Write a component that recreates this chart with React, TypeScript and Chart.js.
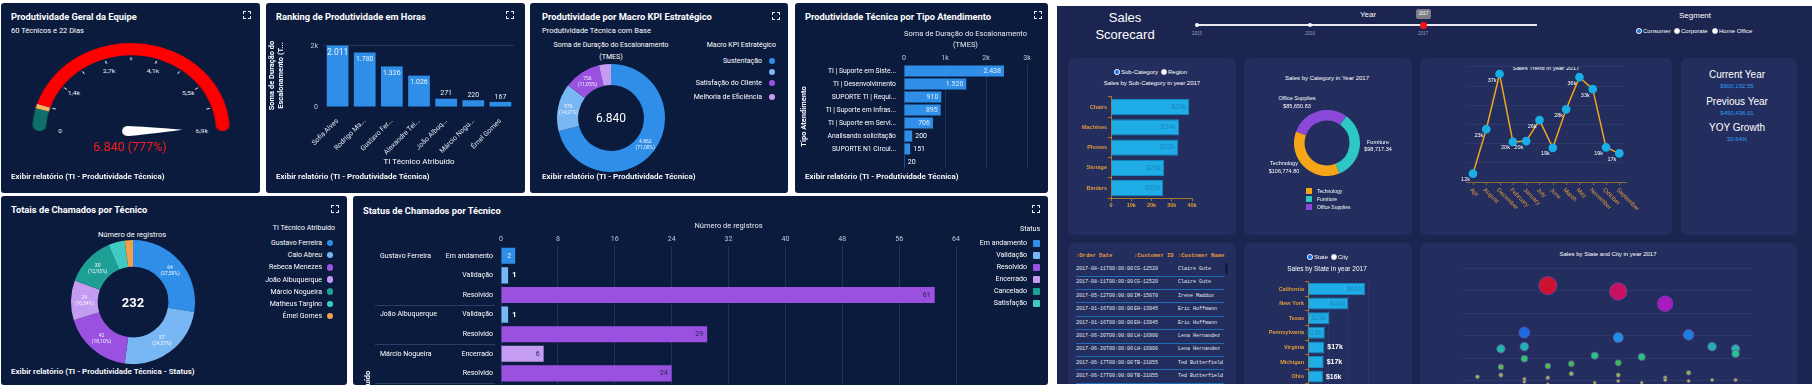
import React, { useEffect, useRef } from 'react';
import { Chart, registerables } from 'chart.js';

Chart.register(...registerables);

const LF = 'Roboto, "Noto Sans", sans-serif';
const RF = '"Liberation Sans", Arial, sans-serif';
const MF = '"Liberation Mono", "DejaVu Sans Mono", monospace';

// ================= LEFT DASHBOARD DATA =================
const gaugeBandLabels = ['Meta', 'Tolerância', 'Acima da meta'];
const gaugeBandValues = [575, 115, 6210];
const gaugeTickLabels = ['0', '1,4k', '2,7k', '4,1k', '5,5k', '6,9k'];
const gaugeValue = 6840;
const gaugeMax = 6900;
const gaugeValueText = '6.840 (777%)';

const rankNames = ['Sofia Alves', 'Rodrigo Ma...', 'Gustavo Fer...', 'Alexandre Tei...', 'João Albuq...', 'Márcio Nogu...', 'Érnel Gomes'];
const rankHours = [2011, 1780, 1326, 1026, 271, 220, 167];

const kpiNames = ['Sustentação', '', 'Satisfação do Cliente', 'Melhoria de Eficiência'];
const kpiValues = [4862, 976, 756, 246];

const serviceTypes = ['TI | Suporte em Siste...', 'TI | Desenvolvimento', 'SUPORTE TI | Requi...', 'TI | Suporte em Infras...', 'TI | Suporte em Servi...', 'Analisando solicitação', 'SUPORTE N1 Circul...', ''];
const serviceDurations = [2438, 1520, 910, 895, 706, 200, 151, 20];

const techNames = ['Gustavo Ferreira', 'Caio Abreu', 'Rebeca Menezes', 'João Albuquerque', 'Márcio Nogueira', 'Matheus Targino', 'Érnel Gomes'];
const techTickets = [64, 57, 42, 24, 30, 10, 5];

const statusNames = ['Em andamento', 'Validação', 'Resolvido', 'Encerrado', 'Cancelado', 'Satisfação'];
const statusRowTech = ['Gustavo Ferreira', '', '', 'João Albuquerque', '', 'Márcio Nogueira', '', 'Rebeca Menezes'];
const statusRowStatus = ['Em andamento', 'Validação', 'Resolvido', 'Validação', 'Resolvido', 'Encerrado', 'Resolvido', 'Resolvido'];
const statusRowCount = [2, 1, 61, 1, 29, 6, 24, 20];

// ================= RIGHT DASHBOARD DATA =================
const years = ['2015', '2016', '2017'];
const segments = ['Consumer', 'Corporate', 'Home Office'];
const subCategories = ['Chairs', 'Machines', 'Phones', 'Storage', 'Binders'];
const subCategorySales = [38700, 33600, 33200, 26200, 25800];
const categories = ['Technology', 'Furniture', 'Office Supplies'];
const categorySales = [106774.8, 98717.34, 85650.83];
const months = ['Apr', 'August', 'December', 'February', 'January', 'July', 'June', 'March', 'May', 'November', 'October', 'September'];
const monthSales = [12100, 23300, 37200, 20100, 20300, 25600, 18600, 28300, 36400, 33400, 18700, 17200];
const kpiLabels = ['Current Year', 'Previous Year', 'YOY Growth'];
const kpiTexts = ['$600,192.55', '$450,436.01', '30.64%'];
const orderDates = ['2017-08-11T00:00:00', '2017-08-11T00:00:00', '2017-05-12T00:00:00', '2017-01-16T00:00:00', '2017-01-16T00:00:00', '2017-06-20T00:00:00', '2017-06-20T00:00:00', '2017-06-17T00:00:00', '2017-06-17T00:00:00'];
const customerIds = ['CG-12520', 'CG-12520', 'IM-15070', 'EH-13945', 'EH-13945', 'LH-16900', 'LH-16900', 'TB-21055', 'TB-21055'];
const customerNames = ['Claire Gute', 'Claire Gute', 'Irene Maddox', 'Eric Hoffmann', 'Eric Hoffmann', 'Lena Hernandez', 'Lena Hernandez', 'Ted Butterfield', 'Ted Butterfield'];
const states = ['California', 'New York', 'Texas', 'Pennsylvania', 'Virginia', 'Michigan', 'Ohio', 'Washington'];
const stateSales = [61000, 43000, 23000, 18000, 17400, 16800, 16000, 15200];
const bubbleStates = ['Arizona', 'Colorado', 'Florida', 'California', 'Georgia', 'Illinois', 'New York', 'Ohio', 'Washington', 'Texas', 'Virginia', 'Pennsylvania'];
const bubbleState = [3, 6, 8, 2, 9, 6, 1, 2, 10, 11, 11, 2, 5, 7, 3, 4, 6, 1, 0, 1, 2, 2, 3, 4, 6, 6, 8, 8, 9, 9, 10, 11, 5, 7, 3];
const bubbleSales = [26.1, 24.8, 22.1, 15.7, 15.2, 14.6, 12.1, 12.6, 12.6, 12.1, 11.0, 9.9, 10.6, 10.3, 8.3, 8.8, 9.0, 8.1, 5.9, 6.3, 5.4, 4.8, 5.7, 6.6, 6.3, 5.0, 5.7, 5.2, 6.8, 5.0, 5.2, 5.2, 4.6, 4.6, 4.3];

// ================= STYLE =================
const PANEL = '#0b1b3e';
const BLUE = '#2f8fe8', LBLUE = '#79b7f4', PURPLE = '#9b51e0', LAV = '#c49cf2', TEAL = '#1e9f96', CYAN = '#3fcac2', ORANGE = '#f3a04b';
const kpiColors = [BLUE, LBLUE, PURPLE, LAV];
const techColors = [BLUE, LBLUE, PURPLE, LAV, TEAL, CYAN, ORANGE];
const statusColors = [BLUE, LBLUE, PURPLE, LAV, TEAL, CYAN];
const categoryColors = ['#f5a516', '#2ec8c4', '#8a48d8'];
const R_BG = '#1c2450', R_CARD = '#232e5e', R_ORG = '#e39a3b', R_AX = '#a4762f';
const CLEAR = 'rgba(0,0,0,0)';

const fmtBR = (v: number) => String(Math.round(v)).replace(/\B(?=(\d{3})+(?!\d))/g, '.');
const pctBR = (v: number, t: number) => (v / t * 100).toFixed(2).replace('.', ',') + '%';
const kLabel = (v: number) => Math.round(v / 1000) + 'k';

const bubbleStops: [number, string][] = [[4, '#b9c23c'], [7, '#7cc13f'], [9, '#2fc14e'], [11, '#22c98e'], [12.5, '#20b2b2'], [14.6, '#1d92e2'], [16, '#1b62e0'], [22, '#a61ac2'], [25, '#c9115c'], [26.5, '#cd1222']];
const hexRgb = (h: string) => { const n = parseInt(h.slice(1), 16); return [(n >> 16) & 255, (n >> 8) & 255, n & 255]; };
function bubbleColor(v: number) {
  const s = bubbleStops;
  if (v <= s[0][0]) return s[0][1];
  for (let i = 0; i < s.length - 1; i++) {
    if (v <= s[i + 1][0]) {
      const t = (v - s[i][0]) / (s[i + 1][0] - s[i][0]);
      const a = hexRgb(s[i][1]), b = hexRgb(s[i + 1][1]);
      return `rgb(${a.map((c, k) => Math.round(c + (b[k] - c) * t)).join(',')})`;
    }
  }
  return s[s.length - 1][1];
}

const base = (extra: any) => ({
  responsive: false,
  animation: false,
  devicePixelRatio: 1,
  events: [],
  ...extra,
  layout: { autoPadding: false, ...(extra.layout || {}) },
  plugins: { legend: { display: false }, tooltip: { enabled: false }, ...(extra.plugins || {}) },
});

// invisible tick marks used as label gap (tick padding would shrink the plot area)
const gapGrid = (len: number) => ({ display: true, drawOnChartArea: false, drawTicks: true, tickLength: len, color: CLEAR, tickColor: CLEAR });

// ================= HELPERS =================
function ChartBox({ x, y, w, h, cssW, clip, make }: any) {
  const ref = useRef<HTMLCanvasElement>(null);
  useEffect(() => {
    const chart = new Chart(ref.current as HTMLCanvasElement, make());
    return () => chart.destroy();
  }, []);
  const cx = clip ? x - clip[0] : x;
  const cy = clip ? y - clip[1] : y;
  const canvas = <canvas ref={ref} width={w} height={h} style={{ position: 'absolute', left: cx, top: cy, width: cssW ?? w, height: h }} />;
  if (!clip) return canvas;
  return <div style={{ position: 'absolute', left: clip[0], top: clip[1], width: clip[2], height: clip[3], overflow: 'hidden' }}>{canvas}</div>;
}

function Txt({ x, y, s, c = '#fff', w = 400, a = 'l', f = LF, ls = 0, children }: any) {
  const tx = a === 'l' ? 0 : a === 'c' ? -50 : -100;
  return (
    <div style={{ position: 'absolute', left: x, top: y, transform: `translate(${tx}%,-50%)`, fontSize: s, color: c, fontWeight: w, fontFamily: f, whiteSpace: 'nowrap', lineHeight: 1, letterSpacing: ls }}>{children}</div>
  );
}

function Box({ x, y, w, h, bg, r = 0, style = {} }: any) {
  return <div style={{ position: 'absolute', left: x, top: y, width: w, height: h, background: bg, borderRadius: r, ...style }} />;
}

function Icon({ x, y }: any) {
  const c = '#e8ecf4';
  const s = (st: any) => <div style={{ position: 'absolute', width: 2, height: 2, ...st }} />;
  return (
    <div style={{ position: 'absolute', left: x - 4, top: y - 4, width: 8, height: 8 }}>
      {s({ left: 0, top: 0, borderLeft: `1.3px solid ${c}`, borderTop: `1.3px solid ${c}` })}
      {s({ right: 0, top: 0, borderRight: `1.3px solid ${c}`, borderTop: `1.3px solid ${c}` })}
      {s({ left: 0, bottom: 0, borderLeft: `1.3px solid ${c}`, borderBottom: `1.3px solid ${c}` })}
      {s({ right: 0, bottom: 0, borderRight: `1.3px solid ${c}`, borderBottom: `1.3px solid ${c}` })}
    </div>
  );
}

function Dot({ x, y, r, c }: any) {
  return <div style={{ position: 'absolute', left: x - r, top: y - r, width: 2 * r, height: 2 * r, borderRadius: '50%', background: c }} />;
}

function Radio({ x, y, sel }: any) {
  return <div style={{ position: 'absolute', left: x - 2.8, top: y - 2.8, width: 5.6, height: 5.6, boxSizing: 'border-box', borderRadius: '50%', background: sel ? '#1a73e8' : '#ffffff', border: sel ? '1.2px solid #ffffff' : '1px solid #d8d8d8' }} />;
}

function hLabelPlugin(vals: number[], fmt: (v: number) => string, inside: (v: number, w: number) => boolean, inColor: (i: number) => string, outColor: string, inFont: string, outFont: string, pad = 3) {
  return {
    id: 'hlabels',
    afterDatasetsDraw(chart: any) {
      const ctx = chart.ctx;
      const meta = chart.getDatasetMeta(0);
      ctx.save();
      ctx.textBaseline = 'middle';
      meta.data.forEach((el: any, i: number) => {
        const v = vals[i];
        const w = el.x - el.base;
        if (inside(v, w)) {
          ctx.font = inFont; ctx.textAlign = 'right'; ctx.fillStyle = inColor(i);
          ctx.fillText(fmt(v), el.x - pad, el.y);
        } else {
          ctx.font = outFont; ctx.textAlign = 'left'; ctx.fillStyle = outColor;
          ctx.fillText(fmt(v), el.x + pad, el.y);
        }
      });
      ctx.restore();
    },
  };
}

function arcLabelPlugin(lines: (i: number) => string[], font: string, color: string, lh: number, minFrac: number) {
  return {
    id: 'arclabels',
    afterDatasetsDraw(chart: any) {
      const ctx = chart.ctx;
      const meta = chart.getDatasetMeta(0);
      ctx.save();
      ctx.font = font; ctx.fillStyle = color; ctx.textAlign = 'center'; ctx.textBaseline = 'middle';
      meta.data.forEach((el: any, i: number) => {
        const p = el.getProps(['x', 'y', 'startAngle', 'endAngle', 'innerRadius', 'outerRadius'], true);
        if (p.endAngle - p.startAngle < minFrac * 2 * Math.PI) return;
        const a = (p.startAngle + p.endAngle) / 2;
        const r = (p.innerRadius + p.outerRadius) / 2;
        const L = lines(i);
        L.forEach((t, k) => ctx.fillText(t, p.x + Math.cos(a) * r, p.y + Math.sin(a) * r + (k - (L.length - 1) / 2) * lh));
      });
      ctx.restore();
    },
  };
}

// ================= CHART CONFIGS =================
const gaugeConfig = () => ({
  type: 'doughnut',
  data: {
    labels: gaugeBandLabels,
    datasets: [{
      data: gaugeBandValues,
      backgroundColor: ['#0f6f69', '#f4b25c', '#ff0000'],
      borderWidth: 0,
      borderRadius: (c: any) => c.dataIndex === 0 ? { outerStart: 6, innerStart: 6, outerEnd: 0, innerEnd: 0 } : c.dataIndex === gaugeBandValues.length - 1 ? { outerStart: 0, innerStart: 0, outerEnd: 6, innerEnd: 6 } : 0,
    }],
  },
  options: base({ rotation: -90, circumference: 180, cutout: '86%', layout: { padding: { left: 2, right: 2, top: 5, bottom: 22 } } }),
  plugins: [{
    id: 'gaugeDeco',
    afterDatasetsDraw(chart: any) {
      const el = chart.getDatasetMeta(0).data[0];
      const { x: cx, y: cy, innerRadius: ir } = el.getProps(['x', 'y', 'innerRadius'], true);
      const ctx = chart.ctx;
      ctx.save();
      ctx.strokeStyle = '#ffffff'; ctx.lineWidth = 1;
      for (let i = 1; i < 10; i++) {
        const a = Math.PI + i * Math.PI / 10;
        ctx.beginPath();
        ctx.moveTo(cx + Math.cos(a) * (ir - 5), cy + Math.sin(a) * (ir - 5));
        ctx.lineTo(cx + Math.cos(a) * (ir - 2), cy + Math.sin(a) * (ir - 2));
        ctx.stroke();
      }
      ctx.fillStyle = '#ffffff'; ctx.font = `6px ${LF}`; ctx.textAlign = 'center'; ctx.textBaseline = 'middle';
      gaugeTickLabels.forEach((t, k) => {
        const a = Math.PI + k * Math.PI / 5;
        ctx.fillText(t, cx + Math.cos(a) * 63, cy + Math.sin(a) * 63);
      });
      const frac = Math.min(gaugeValue / gaugeMax, 1);
      const a = Math.PI + frac * Math.PI;
      const ux = Math.cos(a), uy = Math.sin(a), nx = -uy, ny = ux;
      const px = cx - 3, py = cy, len = 49, br = 5;
      ctx.beginPath();
      ctx.moveTo(px + ux * len, py + uy * len);
      ctx.quadraticCurveTo(px + ux * len * 0.3 + nx * br * 0.8, py + uy * len * 0.3 + ny * br * 0.8, px + nx * br, py + ny * br);
      ctx.arc(px, py, br, a + Math.PI / 2, a + 1.5 * Math.PI, false);
      ctx.quadraticCurveTo(px + ux * len * 0.3 - nx * br * 0.8, py + uy * len * 0.3 - ny * br * 0.8, px + ux * len, py + uy * len);
      ctx.closePath();
      ctx.fill();
      ctx.restore();
    },
  }],
});

const rankConfig = () => ({
  type: 'bar',
  data: { labels: rankNames, datasets: [{ data: rankHours, backgroundColor: BLUE, borderWidth: 0, barPercentage: 0.8, categoryPercentage: 1 }] },
  options: base({
    layout: { padding: { top: 8, right: 4, left: 0, bottom: 0 } },
    scales: {
      x: {
        grid: { display: false }, border: { display: false },
        ticks: { color: '#dfe3ec', font: { size: 7, family: LF }, maxRotation: 45, minRotation: 45, autoSkip: false, padding: 2 },
        title: { display: true, text: 'TI Técnico Atribuído', color: '#ffffff', font: { size: 8, family: LF }, padding: { top: 0, bottom: 3 } },
        afterFit: (s: any) => { s.height = 63; },
      },
      y: {
        min: 0, max: 2060,
        grid: { color: (c: any) => c.tick && c.tick.value === 0 ? CLEAR : '#23365e', drawTicks: true, tickLength: 6, tickColor: CLEAR },
        border: { display: false },
        ticks: { color: '#c5c9d6', font: { size: 7, family: LF }, padding: 0, callback: (v: number) => v === 0 ? '0' : v / 1000 + 'k' },
        afterBuildTicks: (s: any) => { s.ticks = [{ value: 0 }, { value: 2000 }]; },
        title: { display: true, text: ['Soma de Duração do', 'Escalonamento (T...'], color: '#ffffff', font: { size: 7.5, family: LF, weight: 'bold' }, padding: 0 },
        afterFit: (s: any) => { s.width = 56; },
      },
    },
  }),
  plugins: [{
    id: 'vlabels',
    afterDatasetsDraw(chart: any) {
      const ctx = chart.ctx;
      ctx.save();
      ctx.textAlign = 'center'; ctx.textBaseline = 'middle'; ctx.fillStyle = '#eef3fb';
      chart.getDatasetMeta(0).data.forEach((el: any, i: number) => {
        const v = rankHours[i];
        const h = el.base - el.y;
        if (h > 20) { ctx.font = `${i === 0 ? 8.5 : 7}px ${LF}`; ctx.fillText(fmtBR(v), el.x, el.y + 7); }
        else { ctx.font = `7px ${LF}`; ctx.fillText(fmtBR(v), el.x, el.y - 5); }
      });
      ctx.restore();
    },
  }],
});

const kpiTotal = kpiValues.reduce((a, b) => a + b, 0);
const kpiDonutConfig = () => ({
  type: 'doughnut',
  data: { labels: kpiNames, datasets: [{ data: kpiValues, backgroundColor: kpiColors, borderWidth: 0 }] },
  options: base({ cutout: '61%' }),
  plugins: [arcLabelPlugin((i) => [fmtBR(kpiValues[i]), `(${pctBR(kpiValues[i], kpiTotal)})`], `5px ${LF}`, '#f0f4fa', 6, 0.05)],
});

const serviceConfig = () => ({
  type: 'bar',
  data: { labels: serviceTypes, datasets: [{ data: serviceDurations, backgroundColor: BLUE, borderWidth: 0, barPercentage: 0.85, categoryPercentage: 1 }] },
  options: base({
    indexAxis: 'y',
    layout: { padding: { top: 0, right: 8, left: 0, bottom: 9.5 } },
    scales: {
      x: {
        position: 'top', min: 0, max: 3000,
        ticks: { stepSize: 1000, color: '#c5c9d6', font: { size: 7, family: LF }, padding: 2, callback: (v: number) => v === 0 ? '0' : v / 1000 + 'k' },
        grid: { color: '#1f3259', drawTicks: false }, border: { display: false },
        title: { display: true, text: ['Soma de Duração do Escalonamento', '(TMES)'], color: '#e6e9f0', font: { size: 7.5, family: LF, lineHeight: 1.5 }, padding: { top: 0, bottom: 0 } },
        afterFit: (s: any) => { s.height = 36.5; },
      },
      y: {
        grid: gapGrid(8), border: { display: false },
        ticks: { color: '#ffffff', font: { size: 6.8, family: LF }, padding: 0, autoSkip: false },
        title: { display: true, text: 'Tipo Atendimento', color: '#ffffff', font: { size: 7.5, family: LF, weight: 'bold' }, padding: 0 },
        afterFit: (s: any) => { s.width = 104; },
      },
    },
  }),
  plugins: [hLabelPlugin(serviceDurations, fmtBR, (v) => v >= 700, () => '#e2ebf7', '#ffffff', `7px ${LF}`, `7px ${LF}`, 3)],
});

const techTotal = techTickets.reduce((a, b) => a + b, 0);
const techDonutConfig = () => ({
  type: 'doughnut',
  data: { labels: techNames, datasets: [{ data: techTickets, backgroundColor: techColors, borderWidth: 0 }] },
  options: base({ cutout: '57%' }),
  plugins: [arcLabelPlugin((i) => [String(techTickets[i]), `(${pctBR(techTickets[i], techTotal)})`], `5px ${LF}`, '#f4f6fb', 6, 0.06)],
});

const statusConfig = () => ({
  type: 'bar',
  data: {
    labels: statusRowStatus,
    datasets: [{ data: statusRowCount, backgroundColor: statusRowStatus.map((s) => statusColors[statusNames.indexOf(s)]), borderWidth: 0, barPercentage: 0.82, categoryPercentage: 1 }],
  },
  options: base({
    indexAxis: 'y',
    layout: { padding: { top: 0, right: 89, left: 0, bottom: 3.4 } },
    scales: {
      x: {
        position: 'top', min: 0, max: 64,
        ticks: { stepSize: 8, color: '#c5c9d6', font: { size: 7, family: LF }, padding: 3 },
        grid: { color: '#1f3259', drawTicks: false }, border: { display: false },
        title: { display: true, text: 'Número de registros', color: '#e6e9f0', font: { size: 7.5, family: LF }, padding: { top: 0, bottom: 1 } },
        afterFit: (s: any) => { s.height = 24; },
      },
      y: {
        grid: gapGrid(8), border: { display: false },
        ticks: { color: '#ffffff', font: { size: 7, family: LF }, padding: 0, autoSkip: false },
        afterFit: (s: any) => { s.width = 146; },
      },
    },
  }),
  plugins: [
    hLabelPlugin(statusRowCount, (v) => String(v), (v, w) => w > 12, (i) => statusRowStatus[i] === 'Em andamento' ? '#e8f0ff' : '#1c2447', '#ffffff', `7px ${LF}`, `bold 8px ${LF}`, 4),
    {
      id: 'groups',
      afterDraw(chart: any) {
        const ctx = chart.ctx;
        const ys = chart.scales.y;
        const ca = chart.chartArea;
        const step = (ca.bottom - ca.top) / statusRowTech.length;
        ctx.save();
        ctx.font = `7px ${LF}`; ctx.fillStyle = '#ffffff'; ctx.textAlign = 'left'; ctx.textBaseline = 'middle';
        ctx.strokeStyle = '#2a3d66'; ctx.lineWidth = 1;
        statusRowTech.forEach((t, i) => {
          if (!t) return;
          ctx.fillText(t, 25, ys.getPixelForValue(i));
          if (i > 0) {
            const yy = Math.round(ca.top + i * step) + 0.5;
            ctx.beginPath(); ctx.moveTo(20, yy); ctx.lineTo(140, yy); ctx.stroke();
          }
        });
        ctx.translate(13, 183); ctx.rotate(-Math.PI / 2);
        ctx.font = `bold 7.5px ${LF}`; ctx.textAlign = 'center';
        ctx.fillText('TI Técnico Atribuído', 0, 0);
        ctx.restore();
      },
    },
  ],
});

// ---------- right ----------
const subCatConfig = () => ({
  type: 'bar',
  data: { labels: subCategories, datasets: [{ data: subCategorySales, backgroundColor: '#1eade6', borderColor: '#168ac0', borderWidth: 1, barPercentage: 0.8, categoryPercentage: 1 }] },
  options: base({
    indexAxis: 'y',
    layout: { padding: { top: 4.9, right: 38, left: 0, bottom: 0 } },
    scales: {
      x: {
        min: 0, max: 40000,
        ticks: { stepSize: 10000, color: R_ORG, font: { size: 5.5, family: RF, weight: 'bold' }, padding: 1, callback: (v: number) => v === 0 ? '0' : v / 1000 + 'k' },
        grid: { drawOnChartArea: false, color: R_AX, tickLength: 3 }, border: { display: true, color: R_AX },
        afterFit: (s: any) => { s.height = 18.8; },
      },
      y: {
        ticks: { color: R_ORG, font: { size: 5.5, family: RF, weight: 'bold' }, padding: 1 },
        grid: { drawOnChartArea: false, color: R_AX, tickLength: 3 }, border: { display: true, color: R_AX },
        afterFit: (s: any) => { s.width = 36; },
      },
    },
  }),
  plugins: [hLabelPlugin(subCategorySales, (v) => '$' + kLabel(v), () => true, () => '#1b86bf', '#ffffff', `7px ${RF}`, `7px ${RF}`, 3)],
});

const catOrder = [2, 1, 0];
const categoryConfig = () => ({
  type: 'doughnut',
  data: { labels: catOrder.map((i) => categories[i]), datasets: [{ data: catOrder.map((i) => categorySales[i]), backgroundColor: catOrder.map((i) => categoryColors[i]), borderWidth: 0 }] },
  options: base({ cutout: '68%', rotation: 290 }),
});

const trendConfig = () => ({
  type: 'line',
  data: { labels: months, datasets: [{ data: monthSales, borderColor: '#f0a31f', borderWidth: 1.5, pointBackgroundColor: '#19aee6', pointBorderColor: '#19aee6', pointRadius: 3.6, tension: 0 }] },
  options: base({
    layout: { padding: { left: 26.3, right: 39, top: 6.9, bottom: 0 } },
    scales: {
      x: { offset: true, grid: { display: false }, border: { display: true, color: '#8a6b3c' }, ticks: { display: false }, afterFit: (s: any) => { s.height = 28; } },
      y: {
        min: 10000, max: 39000,
        ticks: { display: false, stepSize: 5000 },
        grid: { color: (c: any) => c.tick && c.tick.value === 10000 ? CLEAR : '#2b3868', drawTicks: false },
        border: { display: false }, afterFit: (s: any) => { s.width = 0; },
      },
    },
  }),
  plugins: [{
    id: 'lineDeco',
    afterDatasetsDraw(chart: any) {
      const ctx = chart.ctx;
      const meta = chart.getDatasetMeta(0);
      const ca = chart.chartArea;
      ctx.save();
      ctx.strokeStyle = '#8a6b3c'; ctx.lineWidth = 1;
      meta.data.forEach((p: any) => { ctx.beginPath(); ctx.moveTo(Math.round(p.x) + 0.5, ca.bottom); ctx.lineTo(Math.round(p.x) + 0.5, ca.bottom + 3); ctx.stroke(); });
      ctx.font = `5.5px ${RF}`; ctx.fillStyle = '#ffffff'; ctx.textAlign = 'right'; ctx.textBaseline = 'middle';
      meta.data.forEach((p: any, i: number) => ctx.fillText(kLabel(monthSales[i]), p.x - 3, p.y + 6));
      ctx.font = `6px ${RF}`; ctx.fillStyle = R_ORG; ctx.textAlign = 'left';
      meta.data.forEach((p: any, i: number) => {
        ctx.save(); ctx.translate(p.x - 2, ca.bottom + 7); ctx.rotate(Math.PI / 4); ctx.fillText(months[i], 0, 0); ctx.restore();
      });
      ctx.restore();
    },
  }],
});

const stateConfig = () => ({
  type: 'bar',
  data: { labels: states, datasets: [{ data: stateSales, backgroundColor: '#1eade6', borderColor: '#168ac0', borderWidth: 1, barPercentage: 0.82, categoryPercentage: 1 }] },
  options: base({
    indexAxis: 'y',
    layout: { padding: { top: 5.7, right: 6.3, left: 0, bottom: 7.5 } },
    scales: {
      x: { min: 0, max: 65000, ticks: { display: false, stepSize: 20000 }, grid: { color: (c: any) => c.tick && c.tick.value === 0 ? CLEAR : '#2a3766', drawTicks: false }, border: { display: false }, afterFit: (s: any) => { s.height = 0; } },
      y: {
        ticks: { color: R_ORG, font: { size: 5.5, family: RF, weight: 'bold' }, padding: 1 },
        grid: { drawOnChartArea: false, color: R_AX, tickLength: 3 }, border: { display: true, color: R_AX },
        afterFit: (s: any) => { s.width = 58; },
      },
    },
  }),
  plugins: [hLabelPlugin(stateSales, (v) => '$' + kLabel(v), (v) => v >= 18000, () => '#1b86bf', '#ffffff', `7px ${RF}`, `bold 7px ${RF}`, 3)],
});

const bubbleConfig = () => ({
  type: 'bubble',
  data: {
    datasets: [{
      label: 'Sales',
      data: bubbleSales.map((v, i) => ({ x: bubbleState[i], y: v, r: v * 0.35 })),
      backgroundColor: bubbleSales.map(bubbleColor),
      borderColor: 'rgba(110,70,170,0.9)',
      borderWidth: 0.8,
    }],
  },
  options: base({
    layout: { padding: { left: 21, right: 28, top: 18, bottom: 6.5 } },
    scales: {
      x: { type: 'linear', display: false, min: -0.7, max: bubbleStates.length - 0.3 },
      y: { min: 0, max: 30, ticks: { display: false, stepSize: 5 }, grid: { color: '#2b3868', drawTicks: false }, border: { display: false }, afterFit: (s: any) => { s.width = 0; } },
    },
  }),
});

// ================= APP =================
const panels = [[1, 3, 259, 190], [266, 3, 259, 190], [530, 3, 258, 190], [795, 3, 253, 190], [1, 196, 346, 189], [353, 196, 695, 189]];
const footer = 'Exibir relatório (TI - Produtividade Técnica)';

export default function App() {
  useEffect(() => {
    document.body.style.margin = '0';
    document.body.style.overflow = 'hidden';
  }, []);

  const title = (x: number, y: number, t: string) => <Txt x={x} y={y} s={9.3} w={700}>{t}</Txt>;
  const foot = (x: number, y: number, t: string) => <Txt x={x} y={y} s={8} w={600}>{t}</Txt>;

  return (
    <div style={{ position: 'fixed', left: 0, top: 0, width: 1812, height: 392, overflow: 'hidden', background: '#ffffff' }}>
      {/* ---------- LEFT DASHBOARD ---------- */}
      {panels.map((p, i) => <Box key={i} x={p[0]} y={p[1]} w={p[2]} h={p[3]} bg={PANEL} r={3} />)}

      {/* Panel 1: gauge */}
      {title(11, 17, 'Produtividade Geral da Equipe')}
      <Txt x={11} y={31} s={7.5}>60 Técnicos e 22 Dias</Txt>
      <ChartBox x={29.75} y={38} w={180} h={115} cssW={202.5} make={gaugeConfig} />
      <Txt x={130} y={147} s={12.5} c="#ff1c1c" a="c">{gaugeValueText}</Txt>
      {foot(11, 177, footer)}
      <Icon x={247} y={15} />

      {/* Panel 2: ranking */}
      {title(276, 17, 'Ranking de Produtividade em Horas')}
      <ChartBox x={268} y={36} w={250} h={134} make={rankConfig} />
      {foot(276, 177, footer)}
      <Icon x={510} y={15} />

      {/* Panel 3: KPI donut */}
      {title(542, 17, 'Produtividade por Macro KPI Estratégico')}
      <Txt x={542} y={31} s={7.5}>Produtividade Técnica com Base</Txt>
      <Txt x={611} y={45} s={7} a="c">Soma de Duração do Escalonamento</Txt>
      <Txt x={611} y={57} s={7} a="c">(TMES)</Txt>
      <ChartBox x={557} y={64} w={108} h={108} make={kpiDonutConfig} />
      <Txt x={611} y={118} s={12} a="c">{fmtBR(kpiTotal)}</Txt>
      <Txt x={776} y={45} s={7} a="r">Macro KPI Estratégico</Txt>
      {kpiNames.map((n, i) => (
        <React.Fragment key={i}>
          <Txt x={762} y={[61, 72, 83, 97][i]} s={7} a="r">{n}</Txt>
          <Dot x={772} y={[61, 72, 83, 97][i]} r={3.3} c={kpiColors[i]} />
        </React.Fragment>
      ))}
      {foot(542, 177, footer)}
      <Icon x={776} y={16} />

      {/* Panel 4: service types */}
      {title(805, 17, 'Produtividade Técnica por Tipo Atendimento')}
      <ChartBox x={800} y={28} w={235} h={150} make={serviceConfig} />
      {foot(805, 177, footer)}
      <Icon x={1038} y={15} />

      {/* Panel 5: tickets per technician */}
      {title(11, 210, 'Totais de Chamados por Técnico')}
      <Txt x={132} y={235} s={7.5} a="c">Número de registros</Txt>
      <ChartBox x={71} y={240} w={124} h={124} make={techDonutConfig} />
      <Txt x={133} y={302} s={13} w={700} a="c">{String(techTotal)}</Txt>
      <Txt x={335} y={228} s={7} a="r">TI Técnico Atribuído</Txt>
      {techNames.map((n, i) => (
        <React.Fragment key={i}>
          <Txt x={322} y={243 + i * 12.17} s={7} a="r">{n}</Txt>
          <Dot x={330} y={243 + i * 12.17} r={3.3} c={techColors[i]} />
        </React.Fragment>
      ))}
      {foot(11, 372, 'Exibir relatório (TI - Produtividade Técnica - Status)')}
      <Icon x={335} y={209} />

      {/* Panel 6: status per technician */}
      {title(363, 211, 'Status de Chamados por Técnico')}
      <ChartBox x={355} y={222} w={690} h={185} clip={panels[5]} make={statusConfig} />
      <Txt x={1040} y={229} s={7} a="r">Status</Txt>
      {statusNames.map((n, i) => (
        <React.Fragment key={i}>
          <Txt x={1027} y={243 + i * 12} s={7} a="r">{n}</Txt>
          <Box x={1032.5} y={239.5 + i * 12} w={7} h={7} bg={statusColors[i]} r={1} />
        </React.Fragment>
      ))}
      <Icon x={1036} y={209} />

      {/* ---------- RIGHT DASHBOARD ---------- */}
      <Box x={1057} y={6} w={755} h={378} bg={R_BG} />
      <Txt x={1125} y={17} s={13} a="c" f={RF}>Sales</Txt>
      <Txt x={1125} y={34} s={13} a="c" f={RF}>Scorecard</Txt>

      {/* year slider */}
      <Txt x={1368} y={15} s={8} a="c" f={RF}>Year</Txt>
      <Box x={1197} y={24.2} w={340} h={1.6} bg="#e8e8ee" />
      {years.map((yv, i) => (
        <React.Fragment key={yv}>
          <Dot x={[1197, 1310, 1423][i]} y={25} r={i === 2 ? 3.5 : 2} c={i === 2 ? '#ff1010' : '#ffffff'} />
          <Txt x={[1197, 1310, 1423][i]} y={34} s={4.5} a="c" f={RF} c="#9aa0b8">{yv}</Txt>
        </React.Fragment>
      ))}
      <Box x={1416} y={9} w={15} h={10} bg="#7d7d85" r={2} />
      <Txt x={1423.5} y={14} s={4.5} a="c" f={RF}>2017</Txt>

      {/* segment */}
      <Txt x={1695} y={16} s={8} a="c" f={RF}>Segment</Txt>
      <Radio x={1639} y={31} sel />
      <Txt x={1643} y={31} s={6} f={RF}>{segments[0]}</Txt>
      <Radio x={1677} y={31} />
      <Txt x={1681} y={31} s={6} f={RF}>{segments[1]}</Txt>
      <Radio x={1715} y={31} />
      <Txt x={1719} y={31} s={6} f={RF}>{segments[2]}</Txt>

      {/* cards */}
      <Box x={1068} y={58} w={168} h={177} bg={R_CARD} r={6} />
      <Box x={1244} y={58} w={168} h={177} bg={R_CARD} r={6} />
      <Box x={1420} y={58} w={252} h={177} bg={R_CARD} r={6} />
      <Box x={1681} y={58} w={116} h={177} bg={R_CARD} r={6} />
      <Box x={1068} y={243} w={168} h={160} bg={R_CARD} r={6} />
      <Box x={1244} y={243} w={168} h={160} bg={R_CARD} r={6} />
      <Box x={1420} y={243} w={377} h={160} bg={R_CARD} r={6} />

      {/* Card A */}
      <Radio x={1117} y={72} sel />
      <Txt x={1121} y={72} s={6} f={RF}>Sub-Category</Txt>
      <Radio x={1164} y={72} />
      <Txt x={1168} y={72} s={6} f={RF}>Region</Txt>
      <Txt x={1152} y={83} s={6} a="c" f={RF}>Sales by Sub-Category in year 2017</Txt>
      <ChartBox x={1075} y={92} w={155} h={125} make={subCatConfig} />

      {/* Card B */}
      <Txt x={1327} y={78} s={6} a="c" f={RF}>Sales by Category in Year 2017</Txt>
      <ChartBox x={1294} y={110} w={66} h={66} make={categoryConfig} />
      <Txt x={1297} y={99} s={5.5} a="c" f={RF}>{categories[2]}</Txt>
      <Txt x={1297} y={107} s={5.5} a="c" f={RF}>$85,650.83</Txt>
      <Txt x={1378} y={143} s={5.5} a="c" f={RF}>{categories[1]}</Txt>
      <Txt x={1378} y={150} s={5.5} a="c" f={RF}>$98,717.34</Txt>
      <Txt x={1284} y={164} s={5.5} a="c" f={RF}>{categories[0]}</Txt>
      <Txt x={1284} y={172} s={5.5} a="c" f={RF}>$106,774.80</Txt>
      {categories.map((c, i) => (
        <React.Fragment key={c}>
          <Box x={1305.5} y={188 + i * 8} w={6} h={6} bg={categoryColors[i]} />
          <Txt x={1317} y={191 + i * 8} s={5} f={RF}>{c}</Txt>
        </React.Fragment>
      ))}

      {/* Card C */}
      <Txt x={1546} y={68} s={6} a="c" f={RF}>Sales Trend in year 2017</Txt>
      <ChartBox x={1440} y={60} w={225} h={150} make={trendConfig} />

      {/* Card D */}
      {kpiLabels.map((l, i) => (
        <React.Fragment key={l}>
          <Txt x={1737} y={75 + i * 26.5} s={10} a="c" f={RF}>{l}</Txt>
          <Txt x={1737} y={86 + i * 26.5} s={6} a="c" f={RF} c="#2d9cf0">{kpiTexts[i]}</Txt>
        </React.Fragment>
      ))}

      {/* Card E: table */}
      <Txt x={1076} y={256} s={5.5} w={700} f={MF} c={R_ORG}>↕Order Date</Txt>
      <Txt x={1134} y={256} s={5.5} w={700} f={MF} c={R_ORG}>↕Customer ID</Txt>
      <Txt x={1178} y={256} s={5.5} w={700} f={MF} c={R_ORG}>↕Customer Name</Txt>
      <Box x={1225} y={263} w={3} h={11} bg="#151c3c" />
      {orderDates.map((d, i) => (
        <React.Fragment key={i}>
          <Txt x={1076} y={269 + i * 13.4} s={5} f={MF} c="#e6e8f0">{d}</Txt>
          <Txt x={1134} y={269 + i * 13.4} s={5} f={MF} c="#e6e8f0">{customerIds[i]}</Txt>
          <Txt x={1178} y={269 + i * 13.4} s={5} f={MF} c="#e6e8f0">{customerNames[i]}</Txt>
          <Box x={1076} y={275.5 + i * 13.4} w={148} h={0.8} bg="#1f6fb8" />
        </React.Fragment>
      ))}

      {/* Card F */}
      <Radio x={1310} y={257} sel />
      <Txt x={1314} y={257} s={6} f={RF}>State</Txt>
      <Radio x={1334} y={257} />
      <Txt x={1338} y={257} s={6} f={RF}>City</Txt>
      <Txt x={1327} y={269} s={6.5} a="c" f={RF}>Sales by State in year 2017</Txt>
      <ChartBox x={1250} y={276} w={125} h={130} make={stateConfig} />

      {/* Card G */}
      <Txt x={1608} y={254} s={6} a="c" f={RF}>Sales by State and City in year 2017</Txt>
      <ChartBox x={1440} y={250} w={340} h={160} make={bubbleConfig} />

      {/* page background below the right dashboard screenshot */}
      <Box x={1049} y={384} w={763} h={8} bg="#ffffff" />
    </div>
  );
}
